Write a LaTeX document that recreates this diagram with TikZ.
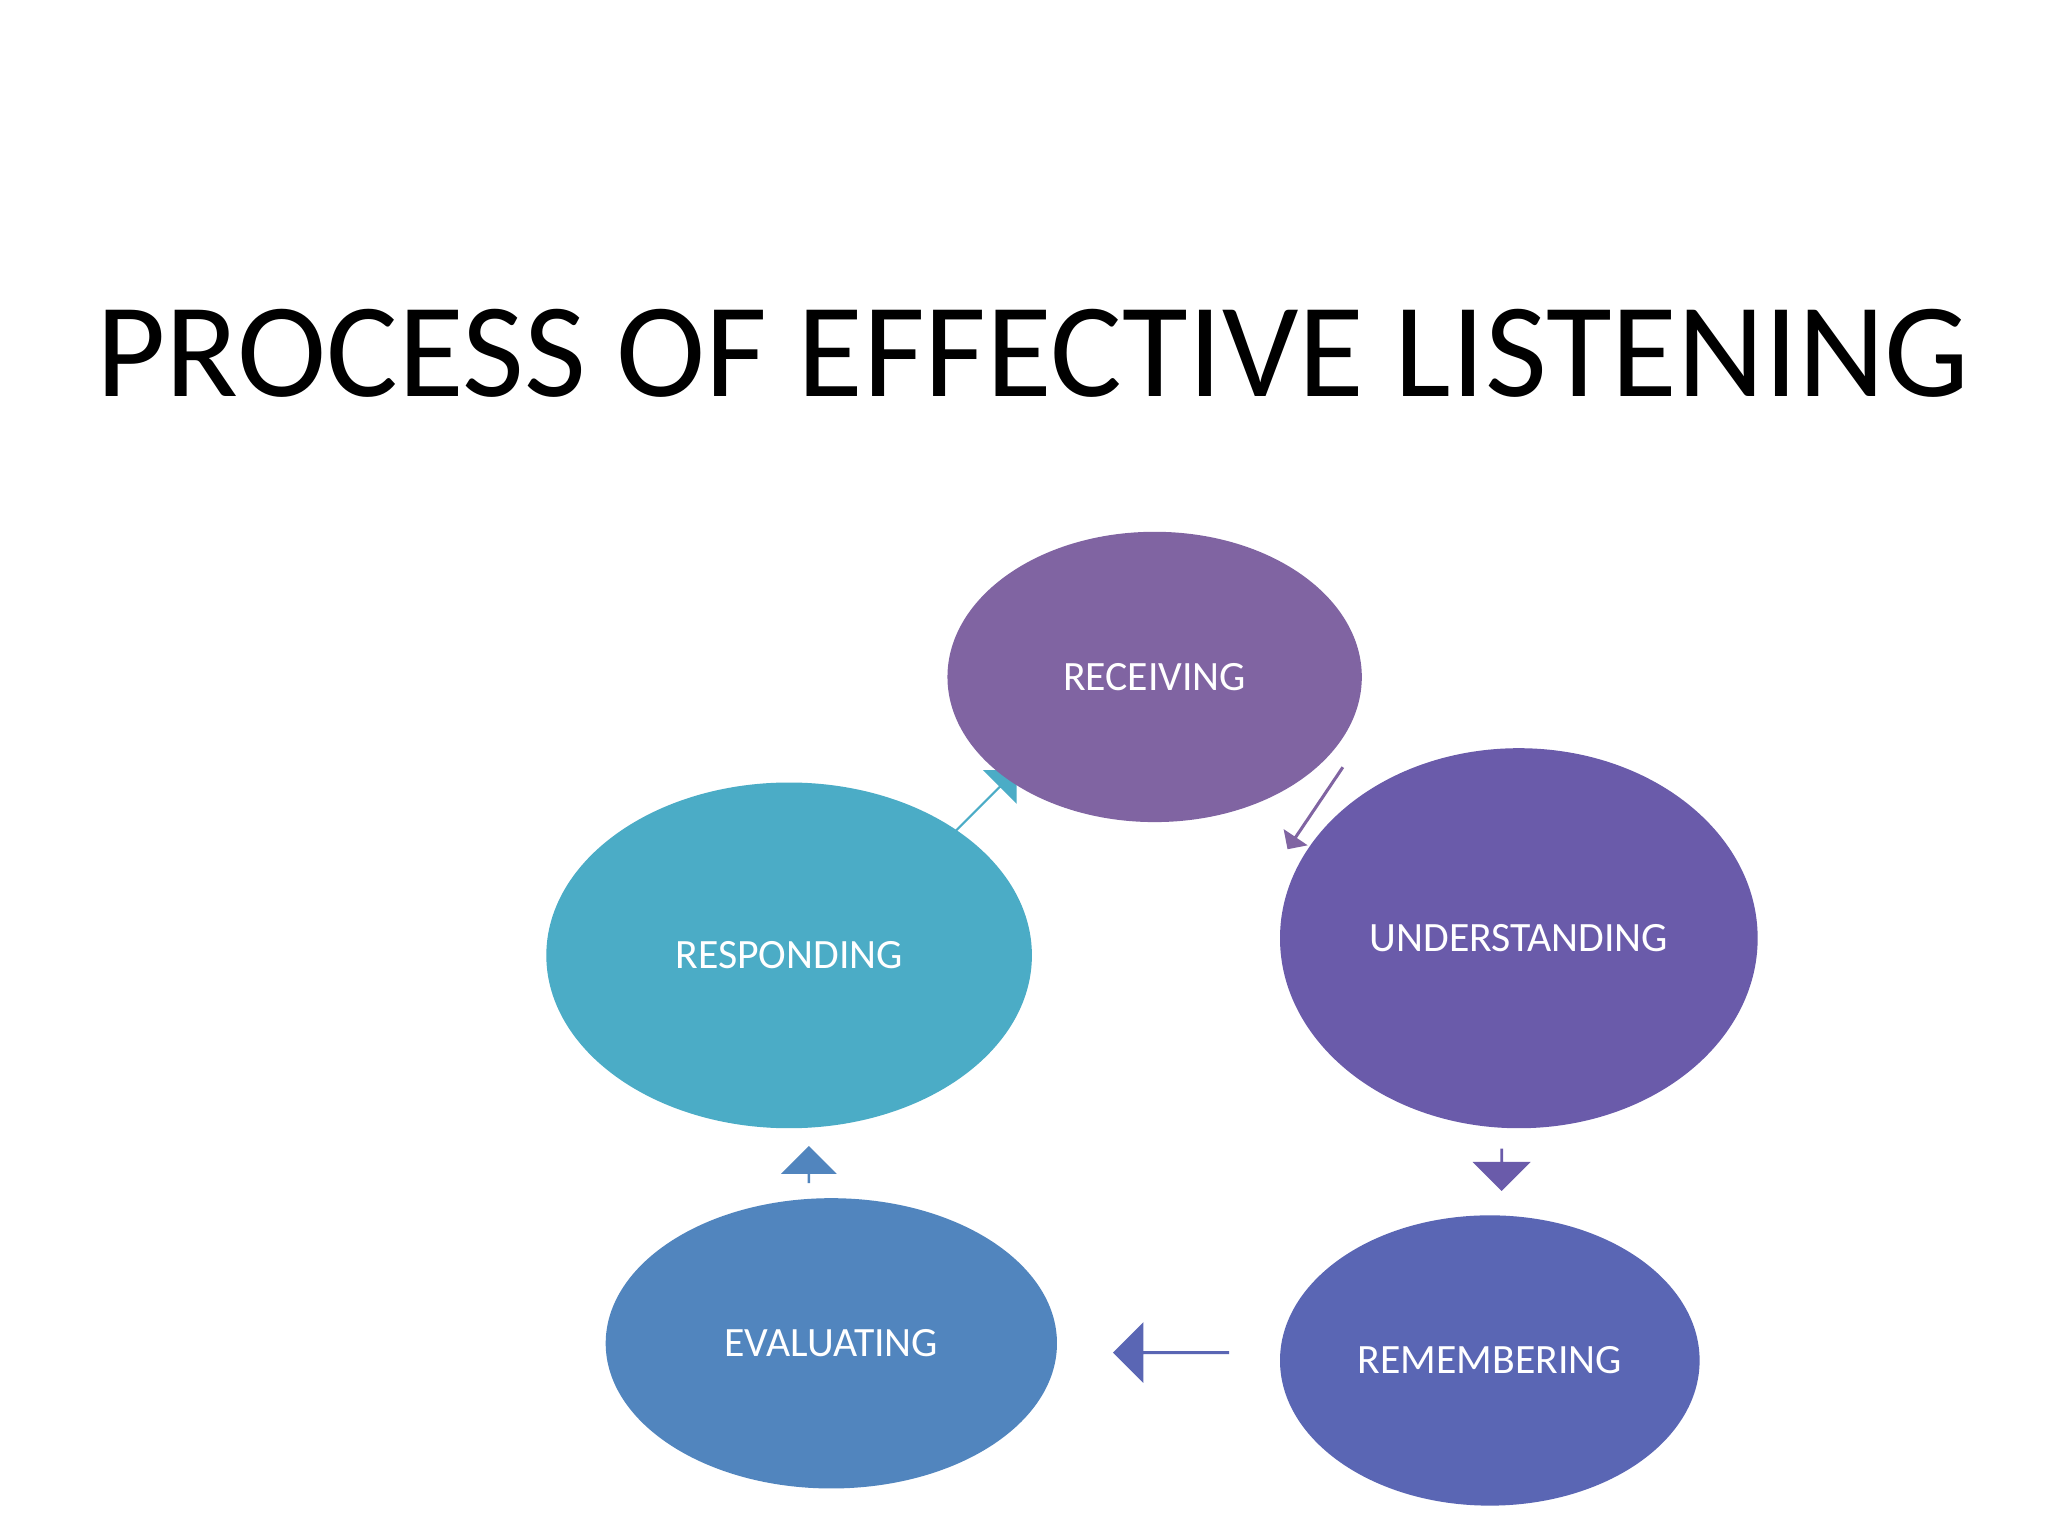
\documentclass[tikz,border=0pt]{standalone}
\usepackage{fontspec}
\setmainfont{Carlito}
\usetikzlibrary{shapes.geometric,shapes.arrows}
\definecolor{cA}{HTML}{8064A2}
\definecolor{cB}{HTML}{6A5BAA}
\definecolor{cC}{HTML}{5A66B4}
\definecolor{cD}{HTML}{5185BE}
\definecolor{cE}{HTML}{4BACC6}
\tikzset{
 stage/.style={ellipse,inner sep=0pt,text=white,font=\fontsize{9pt}{11pt}\selectfont},
 blk/.style={single arrow,inner sep=0pt,draw=none,single arrow head indent=0pt},
}
\begin{document}
\begin{tikzpicture}
\useasboundingbox (0,0) rectangle (15.52,-11.64);
\fill[white] (0,0) rectangle (15.52,-11.64);
\node (title) at (7.83,-2.68) {\fontsize{29pt}{33pt}\selectfont PROCESS OF EFFECTIVE LISTENING};
% arrows behind
\node[blk,fill=cA,rotate=-124,minimum height=0.75cm,minimum width=0.22cm,single arrow head extend=0.06cm] (a1) at (9.97,-6.12) {};
\node[blk,fill=cE,rotate=45,minimum height=0.85cm,minimum width=0.36cm,single arrow head extend=0.15cm] (a5) at (7.40,-6.14) {};
\node[stage,fill=cA,minimum width=3.14cm,minimum height=2.20cm] (rec) at (8.75,-5.13) {RECEIVING};
\node[stage,fill=cB,minimum width=3.62cm,minimum height=2.88cm] (und) at (11.51,-7.11) {UNDERSTANDING};
\node[stage,fill=cC,minimum width=3.18cm,minimum height=2.20cm] (rem) at (11.29,-10.31) {REMEMBERING};
\node[stage,fill=cD,minimum width=3.42cm,minimum height=2.20cm] (eva) at (6.30,-10.18) {EVALUATING};
\node[stage,fill=cE,minimum width=3.68cm,minimum height=2.62cm] (res) at (5.98,-7.24) {RESPONDING};
\node[blk,fill=cB,rotate=-90,minimum height=0.32cm,minimum width=0.44cm,single arrow head extend=0.14cm] (a2) at (11.38,-8.86) {};
\node[blk,fill=cC,rotate=180,minimum height=0.88cm,minimum width=0.46cm,single arrow head extend=0.13cm] (a3) at (8.88,-10.25) {};
\node[blk,fill=cD,rotate=90,minimum height=0.28cm,minimum width=0.42cm,single arrow head extend=0.14cm] (a4) at (6.13,-8.83) {};
\end{tikzpicture}
\end{document}
